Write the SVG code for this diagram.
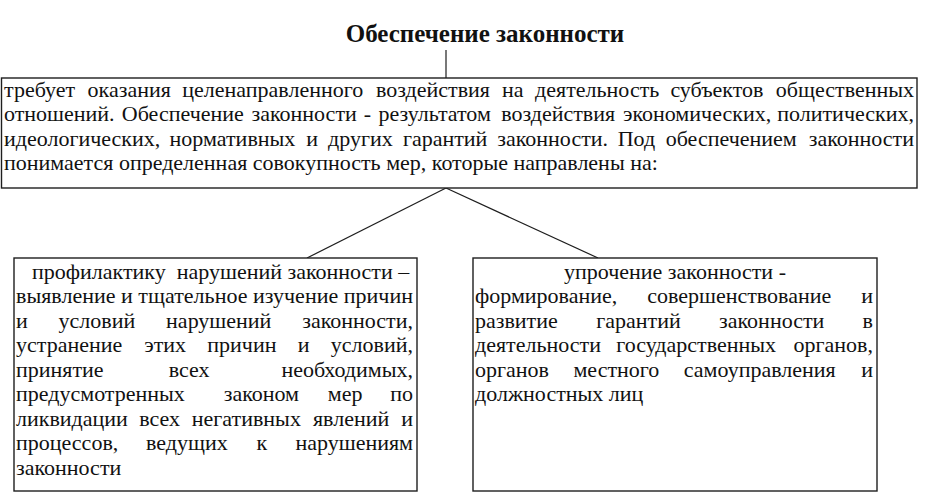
<svg xmlns="http://www.w3.org/2000/svg" width="925" height="495" viewBox="0 0 925 495">
<style>
.bg{fill:#ffffff}
.box{fill:#ffffff;stroke:#1e1e1e;stroke-width:1.4}
.conn{stroke:#1e1e1e;stroke-width:1.2;fill:none}
.t{font-family:"Liberation Serif","Times New Roman",serif;font-size:22px;fill:#111111}
.title{font-family:"Liberation Serif","Times New Roman",serif;font-size:25px;font-weight:bold;fill:#111111}
.pre{white-space:pre}
</style>
<rect class="bg" x="0" y="0" width="925" height="495"/>
<g id="connectors">
<line class="conn" x1="446" y1="50" x2="446" y2="78"/>
<line class="conn" x1="446" y1="188" x2="307" y2="258"/>
<line class="conn" x1="446" y1="188" x2="598" y2="258"/>
</g>
<g id="title">
<text class="title" x="485" y="42" text-anchor="middle">Обеспечение законности</text>
</g>
<g id="main-box">
<rect class="box" x="1.5" y="78" width="915.5" height="110"/>
<text class="t" y="96.5"><tspan x="4">требует</tspan><tspan x="87.6">оказания</tspan><tspan x="182.3">целенаправленного</tspan><tspan x="376">воздействия</tspan><tspan x="502">на</tspan><tspan x="535.1">деятельность</tspan><tspan x="670.4">субъектов</tspan><tspan x="914" text-anchor="end">общественных</tspan></text>
<text class="t" y="121"><tspan x="4">отношений.</tspan><tspan x="121.8">Обеспечение</tspan><tspan x="251.5">законности</tspan><tspan x="363.8">-</tspan><tspan x="378.5">результатом</tspan><tspan x="501.2">воздействия</tspan><tspan x="623">экономических,</tspan><tspan x="914" text-anchor="end">политических,</tspan></text>
<text class="t" y="145.5"><tspan x="4">идеологических,</tspan><tspan x="169.6">нормативных</tspan><tspan x="306.3">и</tspan><tspan x="328">других</tspan><tspan x="402.9">гарантий</tspan><tspan x="497.3">законности.</tspan><tspan x="617.7">Под</tspan><tspan x="665.7">обеспечением</tspan><tspan x="914" text-anchor="end">законности</tspan></text>
<text class="t" x="4" y="170">понимается определенная совокупность мер, которые направлены на:</text>
</g>
<g id="left-box">
<rect class="box" x="14" y="258" width="403" height="233"/>
<text class="t pre" x="32" y="278.5">профилактику  нарушений законности –</text>
<text class="t" x="16" y="303" textLength="397" lengthAdjust="spacing">выявление и тщательное изучение причин</text>
<text class="t" y="327.5"><tspan x="16">и</tspan><tspan x="58.6">условий</tspan><tspan x="166.1">нарушений</tspan><tspan x="413" text-anchor="end">законности,</tspan></text>
<text class="t" y="352"><tspan x="16">устранение</tspan><tspan x="144.2">этих</tspan><tspan x="207.3">причин</tspan><tspan x="297.7">и</tspan><tspan x="413" text-anchor="end">условий,</tspan></text>
<text class="t" y="376.5"><tspan x="16">принятие</tspan><tspan x="168.7">всех</tspan><tspan x="413" text-anchor="end">необходимых,</tspan></text>
<text class="t" y="401"><tspan x="16">предусмотренных</tspan><tspan x="223.7">законом</tspan><tspan x="327.8">мер</tspan><tspan x="413" text-anchor="end">по</tspan></text>
<text class="t" y="425.5"><tspan x="16">ликвидации</tspan><tspan x="139.3">всех</tspan><tspan x="191.8">негативных</tspan><tspan x="313">явлений</tspan><tspan x="413" text-anchor="end">и</tspan></text>
<text class="t" y="450"><tspan x="16">процессов,</tspan><tspan x="146.1">ведущих</tspan><tspan x="256.6">к</tspan><tspan x="413" text-anchor="end">нарушениям</tspan></text>
<text class="t" x="16" y="474.5">законности</text>
</g>
<g id="right-box">
<rect class="box" x="473" y="258" width="404" height="233"/>
<text class="t" x="675" y="278.5" text-anchor="middle">упрочение законности -</text>
<text class="t" y="303"><tspan x="475">формирование,</tspan><tspan x="647.2">совершенствование</tspan><tspan x="873" text-anchor="end">и</tspan></text>
<text class="t" y="327.5"><tspan x="475">развитие</tspan><tspan x="596.2">гарантий</tspan><tspan x="719.1">законности</tspan><tspan x="873" text-anchor="end">в</tspan></text>
<text class="t" y="352"><tspan x="475">деятельности</tspan><tspan x="616.2">государственных</tspan><tspan x="873" text-anchor="end">органов,</tspan></text>
<text class="t" y="376.5"><tspan x="475">органов</tspan><tspan x="573.4">местного</tspan><tspan x="683.8">самоуправления</tspan><tspan x="873" text-anchor="end">и</tspan></text>
<text class="t" x="475" y="401">должностных лиц</text>
</g>
</svg>
